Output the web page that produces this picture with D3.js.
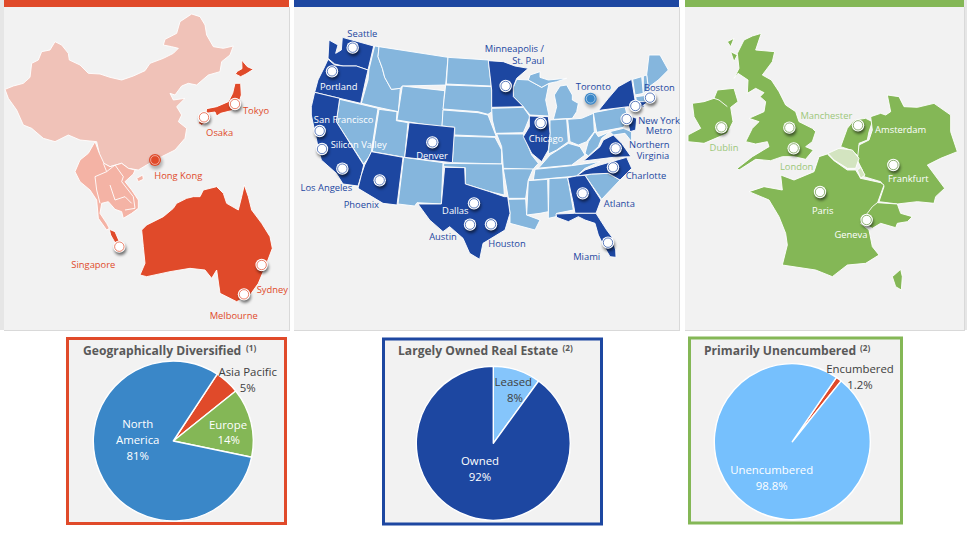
<!DOCTYPE html>
<html>
<head>
<meta charset="utf-8">
<script src="https://cdn.jsdelivr.net/npm/d3@7"></script>
<style>
  html, body { margin: 0; background: #fff; }
  svg { display: block; }
  text { font-family: "Open Sans", sans-serif; }
</style>
</head>
<body>
<div id="chart"></div>
<script>
// map outlines are traced in 3x map units, one set per panel

const asiaPale = [
  [[15,268],[40,258],[70,250],[90,232],[95,190],[115,180],[125,155],[150,150],[165,125],[185,135],[205,160],[208,180],[240,195],[265,220],[300,222],[330,232],[365,240],[400,228],[435,212],[450,190],[490,175],[520,160],[535,145],[515,140],[490,135],[495,118],[530,100],[540,65],[575,42],[600,50],[615,75],[620,105],[640,140],[670,145],[700,138],[690,165],[665,185],[660,215],[625,225],[590,255],[565,250],[545,258],[525,285],[510,280],[520,300],[555,295],[530,320],[545,345],[535,365],[560,385],[555,415],[525,450],[485,470],[440,495],[415,510],[385,505],[365,490],[330,500],[310,490],[300,470],[290,425],[240,420],[205,405],[165,425],[130,415],[95,385],[70,375],[50,330],[25,295]]
];
const asiaMid = [
  [[285,425],[298,460],[312,490],[330,500],[365,490],[385,505],[405,510],[400,522],[375,545],[395,570],[415,600],[415,625],[395,640],[370,655],[365,635],[345,628],[325,605],[305,610],[300,640],[320,670],[328,685],[320,690],[295,655],[290,600],[270,570],[240,545],[225,515],[240,480],[265,460]],
  [[410,535],[428,525],[430,538],[415,545]]
];
const asiaBorders = [
  [[310,490],[320,515],[285,530],[290,570],[300,610]],
  [[320,515],[345,495],[370,530],[365,545],[400,590],[405,625],[375,630]],
  [[330,555],[345,600],[375,590],[395,610]]
];
const asiaDark = [
  [[725,180],[742,200],[760,208],[738,222],[722,230],[706,222],[712,214],[726,206]],
  [[705,250],[722,250],[724,285],[716,310],[694,332],[662,340],[650,348],[645,336],[618,340],[620,326],[650,320],[685,305],[698,280]],
  [[595,370],[600,358],[615,348],[628,350],[630,362],[605,376]],
  [[328,688],[345,695],[358,725],[345,728],[332,705]],
  [[425,690],[440,675],[490,650],[520,625],[530,610],[560,595],[580,590],[600,590],[610,570],[630,565],[650,560],[670,580],[680,610],[715,630],[725,590],[733,555],[745,590],[755,630],[785,670],[810,710],[817,745],[800,790],[775,850],[750,885],[710,905],[690,895],[660,880],[650,810],[635,835],[615,810],[570,805],[510,815],[440,830],[420,825],[435,790],[430,740]]
];
const asiaPins = [["Tokyo",705,312],["Osaka",612,352],["Singapore",358,740],["Sydney",785,795],["Melbourne",732,883]];
const asiaHubs = [["Hong Kong",465,480]];
const asiaLabels = [["Tokyo",768,330],["Osaka",659,398],["Hong Kong",535,525],["Singapore",280,792],["Sydney",817,867],["Melbourne",701,945]];

const usLightWest = [
  [[140,298],[255,325],[235,455],[228,470],[212,492],[130,365]],
  [[245,138],[258,140],[255,170],[268,205],[275,232],[295,268],[322,265],[316,335],[255,322],[205,310],[225,240],[228,208]],
  [[258,140],[465,172],[458,255],[328,258],[322,265],[295,268],[275,232],[268,205],[255,170]],
  [[328,258],[455,272],[447,382],[312,360]],
  [[258,328],[312,335],[310,362],[345,368],[335,472],[238,455]],
  [[332,472],[450,488],[445,612],[372,608],[365,618],[315,612]],
  [[465,172],[586,180],[595,258],[460,252]],
  [[458,255],[595,260],[597,335],[585,343],[555,335],[450,327]],
  [[450,330],[555,338],[585,345],[610,410],[485,405],[485,382],[447,378]],
  [[482,408],[606,412],[626,450],[626,492],[478,488]],
  [[452,490],[628,492],[634,585],[590,575],[517,552],[517,503],[452,500]]
];
const usDarkWest = [
  [[108,120],[135,135],[128,160],[145,150],[148,112],[242,138],[225,210],[190,198],[150,198],[125,192],[105,175]],
  [[105,178],[125,195],[150,198],[190,198],[225,210],[218,240],[203,310],[140,295],[65,277],[75,240],[95,200]],
  [[65,277],[140,295],[130,365],[212,495],[205,525],[195,558],[150,552],[130,520],[85,480],[75,440],[55,345],[55,320]],
  [[348,368],[485,382],[478,488],[335,472]],
  [[235,455],[330,472],[312,615],[270,610],[195,565],[205,525],[215,495],[228,470]],
  [[455,502],[515,503],[517,552],[590,575],[634,590],[644,590],[651,640],[636,690],[570,730],[560,778],[530,760],[510,715],[470,680],[450,695],[410,660],[375,612],[445,612]]
];
const usLightEast = [
  [[95,238],[130,240],[170,262],[192,250],[182,300],[192,348],[135,345],[115,320],[85,290],[85,262]],
  [[130,240],[135,225],[165,215],[165,232],[190,240],[245,235],[215,245],[192,250],[170,262]],
  [[205,358],[215,320],[208,285],[225,258],[245,255],[262,285],[262,300],[280,310],[275,335],[262,355]],
  [[20,325],[115,322],[135,350],[115,398],[32,400],[22,360]],
  [[195,360],[245,357],[250,425],[215,450],[190,462],[195,400]],
  [[248,358],[290,355],[325,340],[328,395],[305,425],[280,435],[255,425]],
  [[160,505],[195,465],[250,430],[285,440],[300,465],[260,495],[155,505]],
  [[150,508],[260,497],[345,485],[300,505],[275,528],[145,540]],
  [[300,460],[310,425],[330,395],[340,410],[375,395],[350,415],[340,440],[310,468]],
  [[325,338],[420,320],[430,360],[415,382],[335,397]],
  [[375,395],[415,385],[440,395],[440,425],[420,400],[385,405]],
  [[492,165],[525,165],[550,210],[520,240],[490,262],[485,225]],
  [[443,238],[470,230],[475,280],[450,285]],
  [[475,228],[485,225],[490,265],[475,280]],
  [[452,290],[495,285],[510,300],[480,310],[455,305]],
  [[55,507],[145,505],[130,540],[122,595],[70,595]],
  [[70,598],[122,597],[125,645],[165,660],[150,690],[75,670],[75,640]],
  [[130,542],[188,538],[190,635],[165,640],[125,645]],
  [[192,536],[248,533],[265,630],[215,640],[213,650],[190,655]],
  [[300,526],[320,522],[370,520],[405,540],[350,598]],
  [[35,402],[115,402],[140,465],[160,490],[145,507],[55,505],[50,440]]
];
const usDarkEast = [
  [[10,182],[55,185],[90,198],[130,205],[95,235],[85,260],[85,290],[115,320],[20,322],[20,270]],
  [[133,348],[190,350],[195,400],[190,450],[170,485],[140,460],[115,410],[133,380]],
  [[295,483],[345,440],[355,420],[385,405],[410,430],[438,470],[385,472]],
  [[275,528],[300,510],[345,495],[425,472],[440,505],[405,540],[370,520],[320,522]],
  [[340,332],[370,295],[400,260],[440,238],[450,300],[470,310],[480,320],[450,325],[430,320],[350,330]],
  [[435,348],[455,355],[452,390],[435,395],[430,375]],
  [[455,305],[490,305],[470,320],[450,320]],
  [[248,533],[275,528],[300,526],[348,600],[333,640],[270,640],[265,610]],
  [[213,642],[268,640],[333,640],[365,690],[380,710],[392,750],[393,772],[375,770],[355,735],[340,705],[330,670],[300,660],[280,650],[250,665],[215,652]]
];
const usPinsWest = [["Seattle",179,143],["Portland",117,214],["San Francisco",80,393],["Silicon Valley",87,447],["Los Angeles",148,506],["Phoenix",260,541],["Denver",418,427],["Dallas",543,610],["Austin",531,674]];
const usPinsEast = [["Houston",18,673],["Minneapolis",62,258],["Chicago",167,369],["Boston",495,293],["New York",451,318],["Metro",425,357],["Northern Virginia",392,445],["Charlotte",384,502],["Atlanta",293,580],["Miami",369,728]];
const usHubs = [["Toronto",317,296]];
// name, x, y, on dark land
const usLabelsWest = [["Seattle",208,101,0],["Portland",137,260,1],["San Francisco",152,359,1],["Silicon Valley",197,434,1],["Los Angeles",100,563,0],["Phoenix",205,613,0],["Denver",417,467,1],["Dallas",487,631,1],["Austin",450,709,0]];
const usLabelsEast = [["Minneapolis /",88,146,0],["St. Paul",130,181,0],["Toronto",325,260,0],["Boston",523,263,0],["New York",522,362,0],["Metro",522,391,0],["Chicago",183,416,1],["Northern",493,434,0],["Virginia",504,467,0],["Charlotte",483,527,0],["Atlanta",403,611,0],["Houston",66,731,0],["Miami",305,769,0]];

const europeLand = [
  [[25,310],[60,305],[90,295],[100,270],[150,265],[162,305],[140,322],[147,365],[130,400],[60,430],[12,425],[12,405],[50,385],[30,350]],
  [[180,120],[205,108],[232,100],[225,120],[215,150],[272,155],[265,185],[235,225],[262,240],[285,275],[305,315],[335,335],[345,365],[385,385],[395,395],[385,425],[365,440],[388,450],[365,478],[330,470],[295,470],[260,482],[215,478],[165,510],[160,505],[205,470],[255,440],[250,425],[215,432],[185,425],[205,385],[225,365],[195,355],[240,335],[245,305],[228,290],[240,278],[215,265],[190,280],[192,240],[162,220],[150,235],[165,205],[160,160]],
  [[130,125],[150,115],[140,140]],
  [[140,155],[160,165],[150,185]],
  [[470,440],[490,385],[510,360],[545,355],[565,365],[555,395],[550,420],[525,430],[525,470],[500,450]],
  [[560,350],[590,340],[605,345],[620,335],[610,285],[645,290],[660,320],[700,322],[750,310],[800,345],[800,395],[820,455],[770,475],[730,495],[782,565],[755,590],[750,610],[700,605],[640,612],[585,605],[600,560],[590,545],[540,530],[535,510],[520,480],[525,435],[555,420],[565,390]],
  [[405,470],[430,462],[450,482],[490,510],[515,510],[530,535],[590,548],[600,555],[580,610],[555,640],[530,670],[555,690],[565,740],[585,765],[545,790],[490,795],[445,830],[395,810],[295,795],[310,735],[305,700],[285,650],[255,600],[195,575],[240,560],[295,570],[290,525],[330,540],[390,515]],
  [[565,620],[580,608],[640,612],[650,640],[685,650],[670,665],[640,670],[635,683],[590,670],[565,685],[535,670],[550,640]],
  [[650,808],[655,830],[652,870],[635,860],[625,830]]
];
const europePale = [
  [[432,460],[465,445],[505,450],[525,475],[515,505],[490,505],[450,480]],
  [[520,510],[530,502],[543,525],[530,535]]
];
const europeBorders = [[[90,295],[105,300],[130,320]]];
const europePins = [["Dublin",112,382],["Manchester",316,383],["London",329,445],["Amsterdam",522,376],["Paris",408,576],["Frankfurt",628,495],["Geneva",548,660]];
const europeLabels = [["Manchester",427,347,0],["Amsterdam",650,389,1],["Dublin",120,442,0],["London",338,500,0],["Frankfurt",673,535,1],["Paris",416,632,1],["Geneva",501,702,1]];

const regionNames = ["Asia Pacific", "Europe", "North America"];
const regionShares = [5, 14, 81];
const tenureNames = ["Leased", "Owned"];
const tenureShares = [10, 90]; // wedge as drawn in the picture, its label says 8%
const lienNames = ["Encumbered", "Unencumbered"];
const lienShares = [1.2, 98.8];

const red = "#e04a2a", blue = "#1d47a1", green = "#84b756";
const width = 967, height = 539;

const svg = d3.select("#chart").append("svg").attr("width", width).attr("height", height);

const defs = svg.append("defs");
defs.append("filter").attr("id", "soft").attr("x", "-100%").attr("y", "-100%").attr("width", "300%").attr("height", "300%")
  .append("feGaussianBlur").attr("stdDeviation", 1.6);

const yMap = d3.scaleLinear().domain([0, 1005]).range([0, 335]);
const mapX = left => d3.scaleLinear().domain([0, 300]).range([left, left + 100]);
const xAsia = mapX(0), xUsWest = mapX(293), xUsEast = mapX(485), xEurope = mapX(684);

// panels
svg.append("rect").attr("width", 4).attr("height", 330).attr("fill", "#e6e6e6");
svg.append("rect").attr("x", 964).attr("width", 3).attr("height", 330).attr("fill", "#e6e6e6");
const panels = [[4, 285, red], [294, 385, blue], [685, 279, green]];
panels.forEach(p => {
  svg.append("rect").attr("x", p[0]).attr("y", 0).attr("width", p[1]).attr("height", 330).attr("fill", "#f2f2f2");
  svg.append("rect").attr("x", p[0] + p[1]).attr("y", 7).attr("width", 1).attr("height", 324).attr("fill", "#d9d9d9");
  svg.append("rect").attr("x", p[0]).attr("y", 330).attr("width", p[1] + 1).attr("height", 1).attr("fill", "#d9d9d9");
  svg.append("rect").attr("x", p[0]).attr("y", 0).attr("width", p[1]).attr("height", 7).attr("fill", p[2]);
});

function land(list, x, fill, closed) {
  const line = d3.line().x(d => x(d[0])).y(d => yMap(d[1]));
  svg.append("g").selectAll("path").data(list).join("path")
    .attr("d", d => line(d) + (closed ? "Z" : ""))
    .attr("fill", closed ? fill : "none")
    .attr("stroke", "#fff").attr("stroke-width", 0.9).attr("stroke-linejoin", "round");
}

function pins(list, x, ring) {
  const g = svg.append("g").selectAll("g").data(list).join("g")
    .attr("transform", d => `translate(${x(d[1])},${yMap(d[2])})`);
  g.append("circle").attr("cx", 1).attr("cy", 2.5).attr("r", 6).attr("fill", "#000").attr("opacity", 0.55).attr("filter", "url(#soft)");
  g.append("circle").attr("r", 6.2).attr("fill", "#fff");
  g.append("circle").attr("r", 4.7).attr("fill", "#fff").attr("stroke", ring).attr("stroke-width", 0.7);
}

function hubs(list, x, color) {
  const g = svg.append("g").selectAll("g").data(list).join("g")
    .attr("transform", d => `translate(${x(d[1])},${yMap(d[2])})`);
  g.append("circle").attr("cx", 1).attr("cy", 2.5).attr("r", 7).attr("fill", "#000").attr("opacity", 0.25).attr("filter", "url(#soft)");
  g.append("circle").attr("r", 6).attr("fill", color);
  g.append("circle").attr("r", 4.4).attr("fill", color).attr("stroke", "#fff").attr("stroke-opacity", 0.7).attr("stroke-width", 0.7);
}

function labels(list, x, color, onLand) {
  svg.append("g").selectAll("text").data(list).join("text")
    .attr("x", d => x(d[1])).attr("y", d => yMap(d[2]))
    .attr("text-anchor", "middle").attr("dominant-baseline", "central")
    .attr("font-size", 9.4)
    .attr("fill", d => d[3] ? onLand : color)
    .text(d => d[0]);
}

// asia
land(asiaPale, xAsia, "#f0c2b8", true);
land(asiaMid, xAsia, "#f4b3a5", true);
land(asiaBorders, xAsia, "none", false);
land(asiaDark, xAsia, red, true);
pins(asiaPins, xAsia, red);
hubs(asiaHubs, xAsia, red);
labels(asiaLabels, xAsia, red, red);

// united states
land(usLightWest, xUsWest, "#85b6dd", true);
land(usLightEast, xUsEast, "#85b6dd", true);
land(usDarkWest, xUsWest, blue, true);
land(usDarkEast, xUsEast, blue, true);
pins(usPinsWest, xUsWest, blue);
pins(usPinsEast, xUsEast, blue);
hubs(usHubs, xUsEast, "#3a87c8");
labels(usLabelsWest, xUsWest, blue, "#fff");
labels(usLabelsEast, xUsEast, blue, "#fff");

// europe
land(europeLand, xEurope, green, true);
land(europePale, xEurope, "#d3e4c0", true);
land(europeBorders, xEurope, "none", false);
pins(europePins, xEurope, "#5f8f3a");
labels(europeLabels, xEurope, "#9cc77a", "#fff");

// pies
const pieBoxes = [
  { x: 67.5, y: 338.5, w: 218, h: 185, color: red, title: "Geographically Diversified", note: "(1)", tx: 83, nx: 246 },
  { x: 383.5, y: 339, w: 218, h: 185, color: blue, title: "Largely Owned Real Estate", note: "(2)", tx: 398, nx: 562.5 },
  { x: 689.5, y: 338, w: 212, h: 185, color: green, title: "Primarily Unencumbered", note: "(2)", tx: 704, nx: 860 }
];
const titleGroup = svg.append("g");
pieBoxes.forEach(b => {
  titleGroup.append("rect").attr("x", b.x).attr("y", b.y).attr("width", b.w).attr("height", b.h)
    .attr("fill", "#f2f2f2").attr("stroke", b.color).attr("stroke-width", 3);
  titleGroup.append("text").attr("x", b.tx).attr("y", 355).attr("font-size", 12.1).attr("font-weight", 700)
    .attr("fill", "#595959").text(b.title);
  titleGroup.append("text").attr("x", b.nx).attr("y", 350.5).attr("font-size", 8.2).attr("font-weight", 700)
    .attr("fill", "#595959").text(b.note);
});

function drawPie(cx, cy, r, names, shares, colors, startDeg) {
  const pie = d3.pie().sort(null).startAngle(startDeg * Math.PI / 180).endAngle((startDeg + 360) * Math.PI / 180);
  const arc = d3.arc().innerRadius(0).outerRadius(r);
  const color = d3.scaleOrdinal().domain(names).range(colors);
  svg.append("g").attr("transform", `translate(${cx},${cy})`)
    .selectAll("path").data(pie(shares)).join("path")
    .attr("d", arc)
    .attr("fill", (d, i) => color(names[i]))
    .attr("stroke", "#fff").attr("stroke-width", 1.4).attr("stroke-linejoin", "round");
}

drawPie(173.3, 441, 80, regionNames, regionShares, [red, green, "#3a87c8"], 33.3);
drawPie(493.3, 443.3, 77, tenureNames, tenureShares, ["#85c5fb", blue], 0);
drawPie(792.3, 441.7, 78, lienNames, lienShares, [red, "#76c0fd"], 34.5);

// pie labels, each line: text, x, y, colour
const pieText = [
  ["Asia Pacific", 247.7, 371, "#404040"], ["5%", 247.7, 387.3, "#404040"],
  ["North", 137.7, 423, "#fff"], ["America", 137.7, 439, "#fff"], ["81%", 137.7, 455, "#fff"],
  ["Europe", 228, 424, "#fff"], ["14%", 228.7, 439.7, "#fff"],
  ["Leased", 513.3, 381, "#404040"], ["8%", 515, 397, "#404040"],
  ["Owned", 480, 460, "#fff"], ["92%", 480, 476, "#fff"],
  ["Encumbered", 860, 368, "#404040"], ["1.2%", 860, 384, "#404040"],
  ["Unencumbered", 771.7, 469, "#fff"], ["98.8%", 771.7, 485, "#fff"]
];
svg.append("g").selectAll("text").data(pieText).join("text")
  .attr("x", d => d[1]).attr("y", d => d[2])
  .attr("text-anchor", "middle").attr("dominant-baseline", "central")
  .attr("font-size", 11.4).attr("fill", d => d[3])
  .text(d => d[0]);
</script>
</body>
</html>
